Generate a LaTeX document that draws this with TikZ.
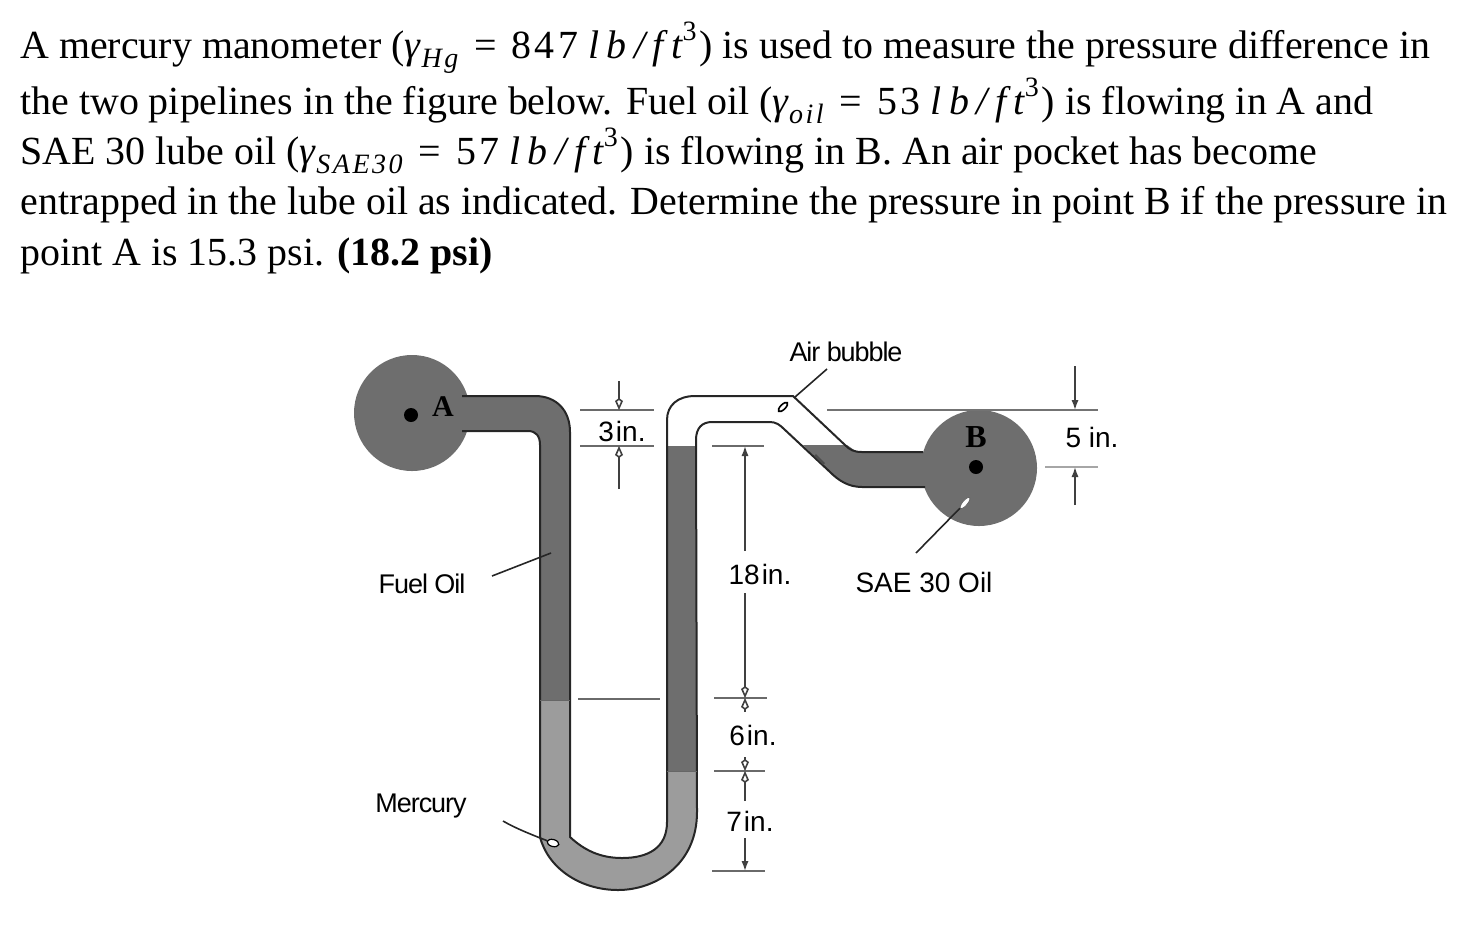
\documentclass[tikz,border=0pt]{standalone}
\usepackage{fontspec}
\usepackage{xcolor}
\usetikzlibrary{arrows.meta,shapes.geometric}
\setmainfont{Liberation Serif}
\newfontfamily\dimfont{Liberation Sans}
\newfontfamily\tightfont[LetterSpace=-4]{Liberation Sans}
\newfontfamily\eqitalic[LetterSpace=19]{Liberation Serif Italic}
\newfontfamily\subitalic[LetterSpace=9]{Liberation Serif Italic}
\newfontfamily\eqdigits[LetterSpace=8]{Liberation Serif}
\definecolor{oilgray}{HTML}{6E6E6E}
\definecolor{hggray}{HTML}{9C9C9C}
\definecolor{rulegray}{HTML}{6A6A6A}
\newcommand{\gammaof}[1]{{\itshape γ\kern.5pt\raisebox{-.25em}{\subitalic\upshape\fontsize{14}{14}\selectfont #1}}}
\newcommand{\eqnum}[1]{\kern8pt=\kern7.5pt{\eqdigits #1}}
\newcommand{\unitlb}{{\eqitalic\upshape\kern5pt lb/ft\raisebox{.45em}{\rmfamily\fontsize{14}{14}\selectfont 3}\kern1.5pt}}
\begin{document}
\begin{tikzpicture}[
    x=.5pt,y=-.5pt,
    qline/.style={anchor=base west,inner sep=0pt,font=\fontsize{19.95}{20}\selectfont},
    dimlabel/.style={inner sep=0pt,font=\dimfont\fontsize{14}{14}\selectfont},
    tightlabel/.style={inner sep=0pt,font=\tightfont\fontsize{13.5}{14}\selectfont},
    wall/.style={line width=1pt,draw=black!85},
    extline/.style={line width=.8pt,draw=rulegray},
    leader/.style={line width=.8pt,draw=black!85},
    dimline/.style={line width=.8pt,draw=black!75},
    opentip/.style={-{Kite[open,length=6pt,width=4pt]}},
    solidtip/.style={-{Latex[length=5pt,width=3.6pt]}},
  ]
  \useasboundingbox (0,0) rectangle (1482,944);

  \node[qline] (line1) at (20,58) {A mercury manometer (\gammaof{Hg}\eqnum{847}\unitlb) is used to measure the pressure difference in};
  \node[qline] (line2) at (20,114) {the two pipelines in the figure below. Fuel oil (\gammaof{oil}\eqnum{53}\unitlb) is flowing in A and};
  \node[qline] (line3) at (20,164) {SAE 30 lube oil (\gammaof{SAE30}\eqnum{57}\unitlb) is flowing in B. An air pocket has become};
  \node[qline] (line4) at (20,214) {entrapped in the lube oil as indicated. Determine the pressure in point B if the pressure in};
  \node[qline] (line5) at (20,265) {point A is 15.3 psi. \textbf{(18.2 psi)}};

  \fill[oilgray] (412,413) circle (58);
  \fill[oilgray] (412,396) -- (535,396) .. controls (556,396) and (570,410) .. (570,432)
    -- (570,700) -- (540,700) -- (540,445) .. controls (540,436) and (536,431) .. (528,431)
    -- (412,431) -- cycle;
  \fill[hggray] (540,700) -- (570,700) -- (570,837) .. controls (584,850) and (600,858) .. (622,858)
    .. controls (648,858) and (667,848) .. (667,822) -- (667,771) -- (697,771) -- (697,812)
    .. controls (697,865) and (655,890) .. (618,890) .. controls (580,890) and (548,868) .. (540,837) -- cycle;
  \fill[oilgray] (667,446) -- (696,446) -- (696,771) -- (667,771) -- cycle;
  \fill[oilgray] (803,445) -- (847,445) -- (857,452) -- (925,452) -- (925,487) -- (862,487)
    .. controls (848,487) and (838,480) .. (830,472) -- cycle;
  \fill[oilgray] (979,468) circle (58);

  \draw[wall] (540,445) .. controls (540,436) and (536,431) .. (528,431) -- (462,431);
  \draw[wall] (462,396) -- (535,396) .. controls (556,396) and (570,410) .. (570,432) -- (570,837)
    .. controls (584,850) and (600,858) .. (622,858) .. controls (648,858) and (667,848) .. (667,822) -- (667,420)
    .. controls (667,405) and (678,396) .. (695,396) -- (793,396) -- (845,445)
    .. controls (850,450) and (854,452) .. (862,452) -- (923,452);
  \draw[wall] (540,445) -- (540,837) .. controls (548,868) and (580,890) .. (618,890)
    .. controls (655,890) and (697,865) .. (697,812) -- (696,440)
    .. controls (696,428) and (702,422) .. (712,422) -- (770,422) .. controls (776,422) and (780,425) .. (784,429)
    -- (830,472) .. controls (838,480) and (848,487) .. (862,487) -- (925,487);
  \draw[line width=.5pt,draw=black!60] (540,700) -- (570,700) (667,771) -- (697,771);

  \fill[black] (411,415) circle (7);
  \fill[black] (976,467) circle (7);
  \node[inner sep=0pt,font=\bfseries\fontsize{15}{15}\selectfont] (ptA) at (443,407) {A};
  \node[inner sep=0pt,font=\bfseries\fontsize{16}{16}\selectfont] (ptB) at (976,437) {B};

  \node[draw=black,line width=.8pt,fill=white,ellipse,inner sep=0pt,minimum width=6pt,minimum height=2.5pt,rotate=45] (bubble) at (783,407) {};
  \draw[line width=1.4pt,draw=black!70] (815,455) -- (824,464);

  \node[tightlabel] (airlabel) at (846,352) {Air bubble};
  \node[tightlabel] (fuellabel) at (422,584) {Fuel Oil};
  \node[tightlabel] (hglabel) at (421,806) {Mercury};
  \node[dimlabel] (saelabel) at (924,582) {SAE 30 Oil};
  \node[fill=white,draw=black,line width=.6pt,ellipse,inner sep=0pt,minimum width=6pt,minimum height=3.5pt,rotate=-15] (hgmark) at (553,843) {};
  \node[fill=white,draw=black!60,line width=.4pt,ellipse,inner sep=0pt,minimum width=7pt,minimum height=2.5pt,rotate=50] (saemark) at (965,503) {};
  \coordinate (fuelend) at (551,553);
  \coordinate (fuelstart) at (492,576);
  \coordinate (airstart) at (827,369);
  \coordinate (airend) at (795,397);
  \coordinate (hgstart) at (503,821);
  \coordinate (saestart) at (916,553);
  \draw[leader] (fuelstart) -- (fuelend);
  \draw[leader] (airstart) -- (airend);
  \draw[leader] (hgstart) .. controls (515,828) and (530,834) .. (hgmark);
  \draw[leader] (saestart) -- (saemark);

  \node[dimlabel] (threein) at (622,431) {3\kern1pt in.};
  \node[dimlabel] (eighteenin) at (760,574) {18\kern1pt in.};
  \node[dimlabel] (sixin) at (753,735) {6\kern1pt in.};
  \node[dimlabel] (sevenin) at (750,821) {7\kern1pt in.};
  \node[dimlabel] (fivein) at (1092,437) {5 in.};

  \draw[extline] (580,410) -- (654,410);
  \draw[extline] (580,446) -- (654,446);
  \draw[extline] (712,446) -- (764,446);
  \draw[extline] (578,699) -- (660,699);
  \draw[extline] (714,698) -- (767,698);
  \draw[extline] (714,771) -- (765,771);
  \draw[extline] (712,871) -- (765,871);
  \draw[extline,draw=black!55] (827,410) -- (1098,410);
  \draw[extline,draw=black!35] (1045,467) -- (1098,467);

  \coordinate (threetop) at (619,381);
  \coordinate (threebot) at (619,489);
  \coordinate (fivetop) at (1075,366);
  \coordinate (fivebot) at (1075,505);
  \draw[dimline,opentip] (threetop) -- (619,410);
  \draw[dimline,opentip] (threebot) -- (619,446);
  \draw[dimline,solidtip] (745,551) -- (745,446);
  \draw[dimline,opentip] (745,593) -- (745,698);
  \draw[dimline,opentip] (745,712) -- (745,698);
  \draw[dimline,opentip] (745,757) -- (745,771);
  \draw[dimline,opentip] (745,801) -- (745,771);
  \draw[dimline,solidtip] (745,838) -- (745,871);
  \draw[dimline,solidtip] (fivetop) -- (1075,410);
  \draw[dimline,solidtip] (fivebot) -- (1075,467);
\end{tikzpicture}
\end{document}
